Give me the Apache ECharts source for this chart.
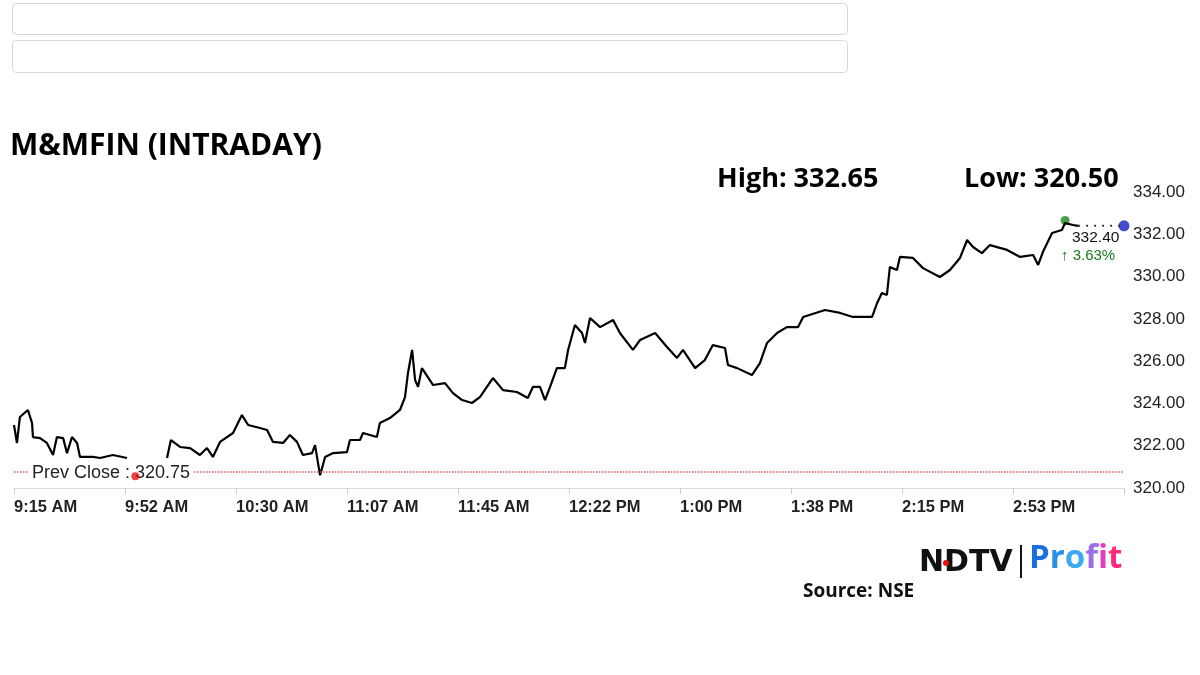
<!DOCTYPE html>
<html>
<head>
<meta charset="utf-8">
<script src="https://cdn.jsdelivr.net/npm/echarts@6/dist/echarts.min.js"></script>
<style>
  html, body { margin: 0; padding: 0; background: #fff; }
  #main-chart { width: 1200px; height: 675px; }
</style>
</head>
<body>
<div id="main-chart"></div>
<script>
// minutes after 9:15 AM
const minutes = [0,1,2,4.7,6.1,6.4,8.8,11.1,13.2,14.5,16.6,17.9,19.6,21.3,22.3,26.7,29.1,33.4,38.2,42.6,51.7,53,56.1,59.5,62.8,65.2,67.2,69.6,74,77,79.1,83.1,85.5,87.5,90.9,93.2,95.6,97.6,100.7,101.7,103.4,105.1,107.8,112.5,113.5,116.9,117.9,122.6,123.6,127,130.4,132.1,133.1,134.5,135.5,136.5,137.8,141.6,145.6,148.3,151.4,154.7,157.4,161.8,165.2,169.9,173.6,175.3,177.7,179.4,181.1,183.4,186.1,187.2,189.5,191.9,192.9,194.6,198,202.4,204.7,209.1,211.5,216.6,220.6,224,226,230.1,233.4,236.1,240.2,241.2,244.3,249.3,252,254.4,257.8,261.1,264.9,266.6,274,279.1,283.4,289.9,291.6,293.2,294.9,295.9,298.3,299.3,303.7,307.1,312.8,316.2,319.6,322,324,327,329.7,335.5,339.9,344.3,346,347.6,350.7,354,355.1,357.8,359.5];
const prices = [322.98,322.13,323.36,323.69,323.07,322.41,322.36,322.13,321.56,322.41,322.36,321.65,322.41,322.13,321.47,321.47,321.42,321.56,321.42,null,321.42,322.27,321.94,321.89,321.56,321.89,321.47,322.18,322.6,323.45,322.98,322.84,322.74,322.18,322.13,322.51,322.18,321.56,321.65,322.03,320.6,321.47,321.65,321.7,322.27,322.27,322.6,322.41,323.07,323.31,323.69,324.3,325.44,326.53,325.11,324.78,325.67,324.87,324.96,324.49,324.16,324.02,324.3,325.2,324.63,324.54,324.26,324.78,324.78,324.16,324.78,325.67,325.67,326.53,327.71,327.33,326.86,328.04,327.61,327.95,327.33,326.53,327.0,327.33,326.67,326.15,326.53,325.67,326.05,326.76,326.62,325.82,325.67,325.34,325.91,326.86,327.33,327.61,327.61,328.09,328.42,328.28,328.09,328.09,328.75,329.22,329.13,330.45,330.31,330.93,330.88,330.4,329.98,330.31,330.88,331.73,331.4,331.11,331.49,331.26,330.93,331.02,330.55,331.16,332.06,332.2,332.53,332.44,332.4];
const xTickLabels = ['9:15 AM','9:52 AM','10:30 AM','11:07 AM','11:45 AM','12:22 PM','1:00 PM','1:38 PM','2:15 PM','2:53 PM',''];
const prevClose = 320.75;
const dayHigh = [355.1, 332.65];
const lastPoint = [375, 332.4];
const prevDot = [41, 320.55];

const chart = echarts.init(document.getElementById('main-chart'));
const font = '"Open Sans", "Noto Sans", sans-serif';
const armFont = '"Liberation Sans", Arial, sans-serif';

chart.setOption({
    animation: false,
    grid: { left: 14, right: 76, top: 192, bottom: 187 },
    xAxis: {
        type: 'value', min: 0, max: 375, interval: 37.5,
        axisLine: { show: true, lineStyle: { color: '#ddd' } },
        axisTick: { show: true, length: 6, lineStyle: { color: '#ccc' } },
        splitLine: { show: false },
        axisLabel: {
            align: 'left', margin: 11, color: '#222', fontSize: 16.5, fontWeight: 'bold', fontFamily: armFont,
            formatter: (v) => xTickLabels[Math.round(v / 37.5)]
        }
    },
    yAxis: {
        type: 'value', position: 'right', min: 320, max: 334, interval: 2,
        axisLine: { show: false }, axisTick: { show: false }, splitLine: { show: false },
        axisLabel: { color: '#222', fontSize: 17, fontFamily: armFont, margin: 9, formatter: (v) => v.toFixed(2) }
    },
    series: [
        {
            type: 'line', data: minutes.map((m, i) => [m, prices[i]]),
            showSymbol: false, connectNulls: false,
            lineStyle: { color: '#000', width: 2.2 },
            markLine: {
                silent: true, symbol: 'none',
                lineStyle: { color: '#e05050', type: 'dotted', width: 1.5 },
                label: {
                    show: true, position: 'insideStartTop', distance: [14, -10],
                    formatter: 'Prev Close : 320.75', color: '#222', fontSize: 18, fontFamily: armFont,
                    backgroundColor: '#fff', padding: [0, 4]
                },
                data: [{ yAxis: prevClose }]
            }
        },
        {
            type: 'line', data: [[minutes[minutes.length - 1], prices[prices.length - 1]], lastPoint],
            showSymbol: false, lineStyle: { color: '#333', type: [2, 6], width: 2 }
        },
        { type: 'scatter', data: [dayHigh], symbolSize: 9, itemStyle: { color: '#1a8a1a' } },
        { type: 'scatter', data: [lastPoint], symbolSize: 11, itemStyle: { color: '#1020c0' } },
        { type: 'scatter', data: [prevDot], symbolSize: 8, itemStyle: { color: '#ee1111' }, z: 10 }
    ],
    graphic: [
        { type: 'rect', shape: { x: 12.5, y: 3.5, width: 835, height: 31, r: 4 }, style: { fill: '#fff', stroke: '#d6d6d6' } },
        { type: 'rect', shape: { x: 12.5, y: 40.5, width: 835, height: 32, r: 4 }, style: { fill: '#fff', stroke: '#d6d6d6' } },
        { type: 'text', left: 10, top: 131, style: { text: 'M&MFIN (INTRADAY)', fontSize: 30, fontWeight: 'bold', fontFamily: font, fill: '#000' } },
        { type: 'text', left: 717, top: 166, style: { text: 'High: 332.65', fontSize: 27, fontWeight: 'bold', fontFamily: font, fill: '#000' } },
        { type: 'text', left: 964, top: 166, style: { text: 'Low: 320.50', fontSize: 27, fontWeight: 'bold', fontFamily: font, fill: '#000' } },
        { type: 'text', left: 1072, top: 230, style: { text: '332.40', fontSize: 15.5, fontFamily: armFont, fill: '#111' } },
        { type: 'text', left: 1061, top: 248, style: { text: '↑ 3.63%', fontSize: 15, fontFamily: armFont, fill: '#1a7a1a' } },
        { type: 'text', left: 919, top: 548, style: { text: 'NDTV', fontSize: 30, fontWeight: 'bold', fontFamily: '"DejaVu Sans", sans-serif', fill: '#111' } },
        { type: 'circle', shape: { cx: 946, cy: 563, r: 3 }, style: { fill: '#e01010' } },
        { type: 'rect', shape: { x: 1020, y: 545, width: 2, height: 33 }, style: { fill: '#111' } },
        {
            type: 'text', left: 1029, top: 542,
            style: {
                text: '{a|P}{b|r}{c|o}{d|f}{e|i}{f|t}', fontSize: 33, fontWeight: 'bold', fontFamily: font,
                rich: {
                    a: { fill: '#1a6fe0', fontSize: 33, fontWeight: 'bold', fontFamily: font },
                    b: { fill: '#2a8ee8', fontSize: 33, fontWeight: 'bold', fontFamily: font },
                    c: { fill: '#39a9f0', fontSize: 33, fontWeight: 'bold', fontFamily: font },
                    d: { fill: '#9a70e8', fontSize: 33, fontWeight: 'bold', fontFamily: font },
                    e: { fill: '#e040c0', fontSize: 33, fontWeight: 'bold', fontFamily: font },
                    f: { fill: '#ff2a80', fontSize: 33, fontWeight: 'bold', fontFamily: font }
                }
            }
        },
        { type: 'text', left: 803, top: 582, style: { text: 'Source: NSE', fontSize: 19, fontWeight: 'bold', fontFamily: font, fill: '#111' } }
    ]
});
</script>
</body>
</html>
